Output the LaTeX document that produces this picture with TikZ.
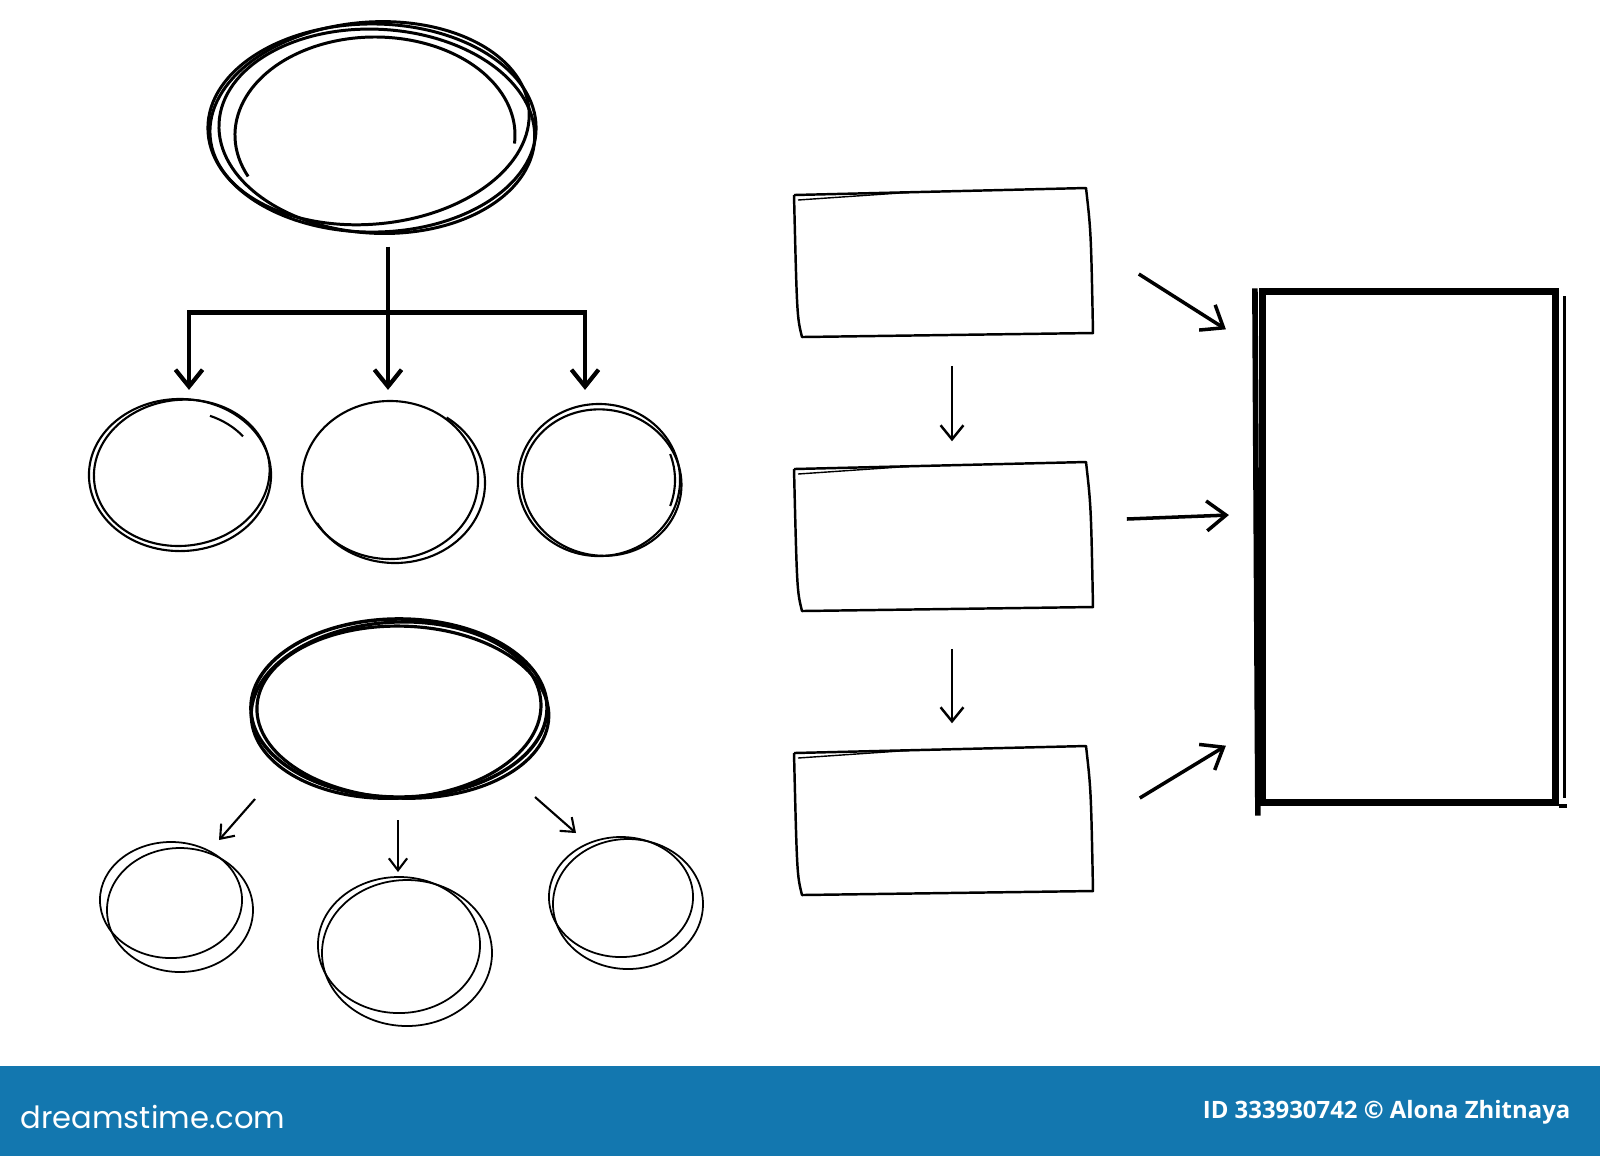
\documentclass[tikz,border=0pt]{standalone}
\usepackage{fontspec}
\newfontfamily\logofont{Poppins}
\newfontfamily\idfont{Open Sans}
\usetikzlibrary{arrows.meta}
\usetikzlibrary{calc}
\usetikzlibrary{shapes.geometric}
\definecolor{barblue}{RGB}{19,119,175}

\begin{document}
\begin{tikzpicture}[x=0.01cm,y=-0.01cm,
  oval/.style={ellipse,draw,inner sep=0pt},
  box/.style={rectangle,inner sep=0pt,minimum width=2.92cm,minimum height=1.46cm},
  boxline/.style={line width=0.7pt,line join=round},
  treelink/.style={line width=1.2pt,-{Straight Barb[length=4.8pt,width=7.7pt]}},
  smalllink/.style={line width=0.6pt,-{Straight Barb[length=3.4pt,width=5.2pt]}},
  boxlink/.style={line width=0.7pt,-{Straight Barb[length=4pt,width=6.5pt]}},
  feedlink/.style={line width=1pt,-{Straight Barb[length=5.5pt,width=8.5pt]}}]
\useasboundingbox (0,0) rectangle (1600,1156);
\fill[white] (0,0) rectangle (1600,1066);

\node[oval,line width=0.85pt,minimum width=3.28cm,minimum height=2.08cm] (main) at (372,128) {};
\draw[line width=0.85pt,rotate around={5:(main.center)}] ($(main.center)+(-2,-5)$) ellipse[x radius=160,y radius=101];
\draw[line width=0.85pt,rotate around={-3:(main.center)}] ($(main.center)+(5,3)$) ellipse[x radius=158,y radius=102];
\draw[line width=0.85pt] ($(main.center)+(3,7)$) ++(155:140 and 98) arc[start angle=155,end angle=365,x radius=140,y radius=98];

\node[oval,line width=0.6pt,minimum width=1.82cm,minimum height=1.52cm] (c1) at (180,475) {};
\draw[line width=0.6pt,rotate around={6:(c1.center)}] ($(c1.center)+(2,-2)$) ellipse[x radius=88,y radius=73];
\draw[line width=0.6pt] ($(c1.center)+(0,2)$) ++(-68:80 and 66) arc[start angle=-68,end angle=-38,x radius=80,y radius=66];
\node[oval,line width=0.6pt,minimum width=1.76cm,minimum height=1.58cm] (c2) at (390,480) {};
\draw[line width=0.6pt] ($(c2.center)+(5,3)$) ++(-55:90 and 80) arc[start angle=-55,end angle=150,x radius=90,y radius=80];
\node[oval,line width=0.6pt,minimum width=1.62cm,minimum height=1.52cm] (c3) at (599,480) {};
\draw[line width=0.6pt,rotate around={-10:(c3.center)}] ($(c3.center)+(3,2)$) ellipse[x radius=80,y radius=73];
\draw[line width=0.6pt] ($(c3.center)+(-4,0)$) ++(-20:80 and 76) arc[start angle=-20,end angle=20,x radius=80,y radius=76];

\coordinate (fork) at ($(main.south)+(16,79)$);
\draw[treelink] ($(main.south)+(16,13)$) -- ($(c2.north)+(-2,-10)$);
\draw[treelink] (fork) -| ($(c1.north)+(9,-8)$);
\draw[treelink] (fork) -| ($(c3.north)+(-14,-13)$);

\node[oval,line width=1pt,minimum width=2.96cm,minimum height=1.78cm] (sub) at (399,708) {};
\draw[line width=0.9pt,rotate around={3:(sub.center)}] ($(sub.center)+(-3,2)$) ellipse[x radius=145,y radius=88];
\draw[line width=0.9pt,rotate around={-2:(sub.center)}] ($(sub.center)+(4,4)$) ellipse[x radius=146,y radius=86];

\node[oval,line width=0.5pt,minimum width=1.42cm,minimum height=1.16cm] (d1) at (171,900) {};
\draw[line width=0.5pt] ($(d1.center)+(9,10)$) ellipse[x radius=73,y radius=62];
\node[oval,line width=0.5pt,minimum width=1.62cm,minimum height=1.36cm] (d2) at (399,945) {};
\draw[line width=0.5pt] ($(d2.center)+(8,8)$) ellipse[x radius=85,y radius=73];
\node[oval,line width=0.5pt,minimum width=1.44cm,minimum height=1.20cm] (d3) at (621,897) {};
\draw[line width=0.5pt] ($(d3.center)+(7,7)$) ellipse[x radius=75,y radius=65];

\draw[smalllink] ($(sub.center)+(-144,91)$) -- ($(d1.center)+(48,-60)$);
\draw[smalllink] ($(sub.center)+(-1,112)$) -- ($(d2.center)+(-1,-73)$);
\draw[smalllink] ($(sub.center)+(136,89)$) -- ($(d3.center)+(-45,-64)$);

\node[box] (b1) at (944,262) {};
\node[box] (b2) at (944,536) {};
\node[box] (b3) at (944,820) {};
\foreach \b in {b1,b2,b3}{
  \draw[boxline] ($(\b)+(-150,-67)$) -- ($(\b)+(142,-74)$) .. controls ($(\b)+(147,-30)$) .. ($(\b)+(149,71)$) -- ($(\b)+(-142,75)$) .. controls ($(\b)+(-147,55)$) .. ($(\b)+(-150,-67)$);
  \draw[line width=0.4pt] ($(\b)+(-146,-62)$) -- ($(\b)+(-30,-70)$);
}
\draw[boxlink] ($(b1.south)+(8,30)$) -- ($(b2.north)+(8,-21)$);
\draw[boxlink] ($(b2.south)+(8,39)$) -- ($(b3.north)+(8,-23)$);

\node[rectangle,draw,line width=2pt,inner sep=0pt,minimum width=2.93cm,minimum height=5.10cm] (panel) at (1409,547) {};
\draw[line width=1.6pt] ($(panel.north west)+(-4,0)$) -- ($(panel.south west)+(-1,10)$);
\draw[line width=0.8pt] ($(panel.north east)+(5,8)$) -- ($(panel.south east)+(5,-8)$);
\draw[line width=1.2pt] (panel.south east) -- ($(panel.south east)+(8,0)$);

\draw[feedlink] ($(b1.east)+(48,12)$) -- ($(panel.north west)+(-33,41)$);
\draw[feedlink] ($(b2.east)+(36,-17)$) -- ($(panel.west)+(-30,-32)$);
\draw[feedlink] ($(b3.east)+(49,-22)$) -- ($(panel.south west)+(-33,-60)$);

\fill[barblue] (0,1066) rectangle (1600,1156);
\node[anchor=base west,inner sep=0pt,text=white,font=\logofont\fontsize{8.7}{10}\selectfont] (logo) at (20,1128) {dreamstime.com};
\node[anchor=base east,inner sep=0pt,text=white,font=\idfont\bfseries\fontsize{6.8}{8}\selectfont] (credit) at (1571,1118) {ID 333930742 © Alona Zhitnaya};
\end{tikzpicture}
\end{document}
